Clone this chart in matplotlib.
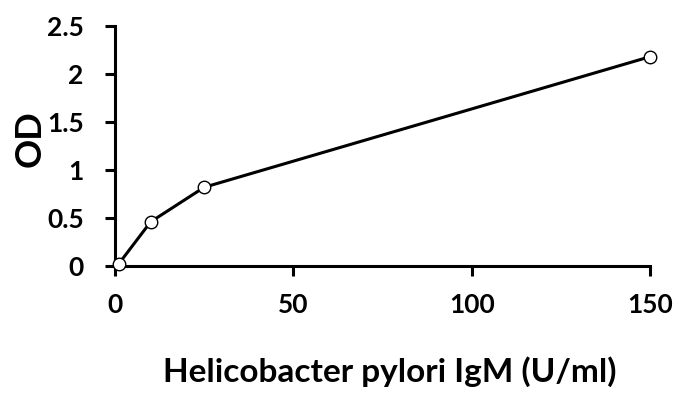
import matplotlib
matplotlib.use('Agg')
import matplotlib.pyplot as plt
import numpy as np

# standard curve values
conc = [1, 10, 25, 150]
od = [0.02, 0.46, 0.82, 2.18]
xticks = [0, 50, 100, 150]
yticks = [0, 0.5, 1, 1.5, 2, 2.5]
yticklabels = ['0', '0.5', '1', '1.5', '2', '2.5']

plt.rcParams['font.family'] = ['Lato', 'DejaVu Sans']
plt.rcParams['font.weight'] = 'bold'

fig = plt.figure(figsize=(6.9, 4.08), dpi=100)
# plot area: x 115..650 px, y 26..266 px
ax = fig.add_axes([115/690, 1-266/408, 535/690, 240/408])

ax.plot(conc, od, '-', color='black', linewidth=2.2,
        marker='o', markersize=9, markerfacecolor='white',
        markeredgecolor='black', markeredgewidth=1.0, clip_on=False, zorder=3)

ax.set_xlim(0, 150)
ax.set_ylim(0, 2.5)
ax.set_xticks(xticks)
ax.set_yticks(yticks)
ax.set_yticklabels(yticklabels)

for s in ['top', 'right']:
    ax.spines[s].set_visible(False)
for s in ['left', 'bottom']:
    ax.spines[s].set_linewidth(2.2)

ax.tick_params(axis='both', direction='out', length=7.5, width=2.2,
               labelsize=19)
ax.tick_params(axis='y', pad=15)
ax.tick_params(axis='x', pad=12)
for lab in ax.get_xticklabels() + ax.get_yticklabels():
    lab.set_fontweight('bold')

ax.set_xlabel('Helicobacter pylori IgM (U/ml)', fontsize=24, fontweight='bold')
ax.xaxis.label.set_verticalalignment('baseline')
ax.xaxis.set_label_coords(275/535, -116/240)

ax.set_ylabel('OD', fontsize=26, fontweight='bold')
ax.yaxis.label.set_verticalalignment('center')
ax.yaxis.set_label_coords(-85/535, 127/240)

fig.savefig('out.png', dpi=100)
